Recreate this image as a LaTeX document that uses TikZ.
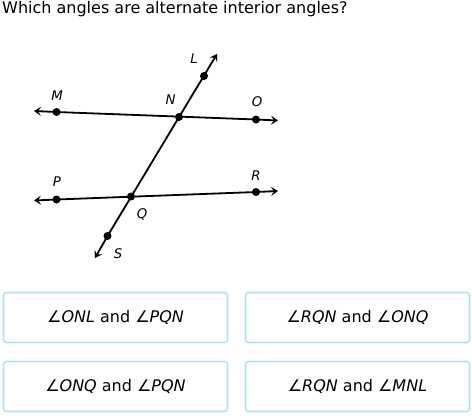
\documentclass[tikz,border=0pt]{standalone}
\usepackage{fontspec}
\setmainfont{DejaVu Sans}
\usetikzlibrary{arrows.meta}
\tikzset{
  ln/.style={line width=1.8bp, line cap=round, -{Stealth[length=7bp,width=9bp,inset=3bp]}},
  pt/.style={circle, fill=black, inner sep=0pt, minimum size=8bp},
  lab/.style={font=\fontsize{13.3bp}{15bp}\selectfont\itshape, inner sep=0pt},
  choice/.style={draw=boxblue, line width=1.6bp, rounded corners=3bp, minimum width=224bp, minimum height=50bp, inner sep=0pt, font=\fontsize{16bp}{18bp}\selectfont},
}
\definecolor{boxblue}{HTML}{AEE3F6}
\begin{document}
\begin{tikzpicture}[x=1bp,y=-1bp]
\useasboundingbox (0,0) rectangle (472,415);
\node[anchor=base west, inner sep=0pt, font=\fontsize{16bp}{18bp}\selectfont] (title) at (2,13.5) {Which angles are alternate interior angles?};
% points
\coordinate (M) at (56.5,112);
\coordinate (N) at (179,117);
\coordinate (O) at (256,119.5);
\coordinate (L) at (204,76);
\coordinate (P) at (56.5,199.5);
\coordinate (Q) at (131,196.5);
\coordinate (R) at (256,192);
\coordinate (S) at (107.5,236);
\coordinate (Ltip) at (217,54);
\coordinate (Stip) at (95,258);
\coordinate (Mtip) at (34,111);
\coordinate (Otip) at (278,120.5);
\coordinate (Ptip) at (34,200.5);
\coordinate (Rtip) at (278,191);
% lines
\draw[ln] (M) -- (Mtip);
\draw[ln] (M) -- (O) -- (Otip);
\draw[ln] (R) -- (Rtip);
\draw[ln] (R) -- (P) -- (Ptip);
\draw[ln] (S) -- (Ltip);
\draw[ln] (S) -- (Stip);
% dots
\foreach \p in {M,N,O,L,P,Q,R,S} \node[pt] (d\p) at (\p) {};
% labels
\node[lab] (lM) at (57,96) {M};
\node[lab] (lN) at (170.5,100) {N};
\node[lab] (lO) at (257,102) {O};
\node[lab] (lL) at (194,59) {L};
\node[lab] (lP) at (57,182) {P};
\node[lab] (lQ) at (142,214) {Q};
\node[lab] (lR) at (256,176) {R};
\node[lab] (lS) at (118,253.5) {S};
% choices
\node[choice] (c1) at (115.5,317.5) {∠\textit{ONL} and ∠\textit{PQN}};
\node[choice] (c2) at (357.5,317.5) {∠\textit{RQN} and ∠\textit{ONQ}};
\node[choice] (c3) at (115.5,386.5) {∠\textit{ONQ} and ∠\textit{PQN}};
\node[choice] (c4) at (357.5,386.5) {∠\textit{RQN} and ∠\textit{MNL}};
\end{tikzpicture}
\end{document}
